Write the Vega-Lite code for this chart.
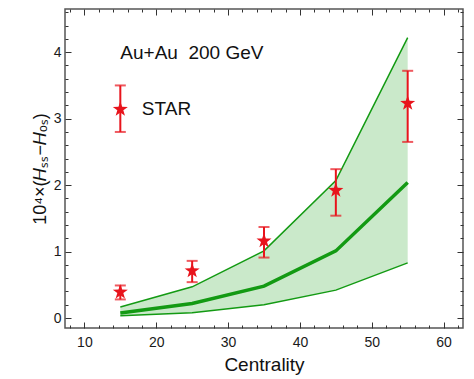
{
  "$schema": "https://vega.github.io/schema/vega-lite/v6.json",
  "width": 398,
  "height": 319,
  "autosize": {"type": "none"},
  "padding": {"left": 65, "top": 9, "right": 11, "bottom": 51},
  "background": "white",
  "config": {
    "view": {"stroke": "#555555", "strokeWidth": 1.5},
    "font": "Liberation Sans",
    "axis": {
      "domain": false,
      "grid": false,
      "labelFont": "Liberation Sans",
      "labelFontSize": 14,
      "labelColor": "#1a1a1a",
      "labelOverlap": false,
      "labelFlush": false,
      "ticks": true,
      "tickColor": "#333333",
      "tickWidth": 1,
      "titleFont": "Liberation Sans",
      "titleFontWeight": "normal",
      "titleColor": "#111111"
    }
  },
  "datasets": {
    "model": [
      {"centrality": 15, "lo": 0.035, "mid": 0.075, "hi": 0.165},
      {"centrality": 25, "lo": 0.08, "mid": 0.22, "hi": 0.47},
      {"centrality": 35, "lo": 0.2, "mid": 0.48, "hi": 1.01},
      {"centrality": 45, "lo": 0.42, "mid": 1.01, "hi": 2.07},
      {"centrality": 55, "lo": 0.83, "mid": 2.04, "hi": 4.22}
    ],
    "star": [
      {"centrality": 15, "value": 0.39, "low": 0.28, "high": 0.49},
      {"centrality": 25, "value": 0.71, "low": 0.54, "high": 0.86},
      {"centrality": 35, "value": 1.16, "low": 0.91, "high": 1.37},
      {"centrality": 45, "value": 1.92, "low": 1.54, "high": 2.24},
      {"centrality": 55, "value": 3.23, "low": 2.65, "high": 3.72},
      {"centrality": 15, "value": 3.14, "low": 2.8, "high": 3.5}
    ],
    "labels": [
      {"centrality": 15, "value": 3.9, "text": "Au+Au\u00a0\u00a0200 GeV"},
      {"centrality": 18, "value": 3.05, "text": "STAR"}
    ]
  },
  "layer": [
    {
      "data": {"name": "model"},
      "mark": {"type": "area", "color": "#0c9a0c", "opacity": 0.22},
      "encoding": {
        "x": {
          "field": "centrality", "type": "quantitative",
          "scale": {"domain": [7.3, 62.7], "nice": false, "zero": false},
          "axis": {
            "orient": "bottom",
            "title": "Centrality",
            "titleFontSize": 19,
            "titlePadding": 6,
            "values": [10, 20, 30, 40, 50, 60],
            "tickSize": 6,
            "offset": -6,
            "labelPadding": 7
          }
        },
        "y": {
          "field": "lo", "type": "quantitative",
          "scale": {"domain": [-0.15, 4.65], "nice": false, "zero": false},
          "axis": {
            "orient": "left",
            "title": "10⁴×(𝐻ₛₛ−𝐻ₒₛ)",
            "titleFontSize": 18,
            "titlePadding": 4,
            "values": [0, 1, 2, 3, 4],
            "format": "d",
            "tickSize": 6,
            "offset": -6,
            "labelPadding": 4
          }
        },
        "y2": {"field": "hi"}
      }
    },
    {
      "data": {"name": "model"},
      "mark": {"type": "line", "color": "#139a13", "strokeWidth": 1.5},
      "encoding": {
        "x": {
          "field": "centrality", "type": "quantitative",
          "scale": {"domain": [7.3, 62.7], "nice": false, "zero": false},
          "axis": {
            "orient": "top", "title": null, "labels": false,
            "values": [10, 20, 30, 40, 50, 60],
            "tickSize": 6, "offset": -6
          }
        },
        "y": {
          "field": "hi", "type": "quantitative",
          "scale": {"domain": [-0.15, 4.65], "nice": false, "zero": false},
          "axis": {
            "orient": "right", "title": null, "labels": false,
            "values": [0, 1, 2, 3, 4],
            "tickSize": 6, "offset": -6
          }
        }
      }
    },
    {
      "data": {"name": "model"},
      "mark": {"type": "line", "color": "#139a13", "strokeWidth": 1.5},
      "encoding": {
        "x": {
          "field": "centrality", "type": "quantitative",
          "axis": {
            "orient": "bottom", "title": null, "labels": false,
            "values": [8, 12, 14, 16, 18, 22, 24, 26, 28, 32, 34, 36, 38, 42, 44, 46, 48, 52, 54, 56, 58, 62],
            "tickSize": 3, "offset": -3
          }
        },
        "y": {
          "field": "lo", "type": "quantitative",
          "axis": {
            "orient": "left", "title": null, "labels": false,
            "values": [0.2, 0.4, 0.6, 0.8, 1.2, 1.4, 1.6, 1.8, 2.2, 2.4, 2.6, 2.8, 3.2, 3.4, 3.6, 3.8, 4.2, 4.4, 4.6],
            "tickSize": 3, "offset": -3
          }
        }
      }
    },
    {
      "data": {"name": "model"},
      "mark": {"type": "line", "color": "#139a13", "strokeWidth": 3.5},
      "encoding": {
        "x": {
          "field": "centrality", "type": "quantitative",
          "axis": {
            "orient": "top", "title": null, "labels": false,
            "values": [8, 12, 14, 16, 18, 22, 24, 26, 28, 32, 34, 36, 38, 42, 44, 46, 48, 52, 54, 56, 58, 62],
            "tickSize": 3, "offset": -3
          }
        },
        "y": {
          "field": "mid", "type": "quantitative",
          "axis": {
            "orient": "right", "title": null, "labels": false,
            "values": [0.2, 0.4, 0.6, 0.8, 1.2, 1.4, 1.6, 1.8, 2.2, 2.4, 2.6, 2.8, 3.2, 3.4, 3.6, 3.8, 4.2, 4.4, 4.6],
            "tickSize": 3, "offset": -3
          }
        }
      }
    },
    {
      "data": {"name": "star"},
      "mark": {"type": "rule", "color": "#e8141c", "strokeWidth": 2},
      "encoding": {
        "x": {"field": "centrality", "type": "quantitative", "axis": null},
        "y": {"field": "low", "type": "quantitative", "axis": null},
        "y2": {"field": "high"}
      }
    },
    {
      "data": {"name": "star"},
      "mark": {"type": "tick", "color": "#e8141c", "orient": "horizontal", "size": 11, "thickness": 2},
      "encoding": {
        "x": {"field": "centrality", "type": "quantitative", "axis": null},
        "y": {"field": "low", "type": "quantitative", "axis": null}
      }
    },
    {
      "data": {"name": "star"},
      "mark": {"type": "tick", "color": "#e8141c", "orient": "horizontal", "size": 11, "thickness": 2},
      "encoding": {
        "x": {"field": "centrality", "type": "quantitative", "axis": null},
        "y": {"field": "high", "type": "quantitative", "axis": null}
      }
    },
    {
      "data": {"name": "star"},
      "mark": {
        "type": "point", "filled": true, "color": "#e8141c", "opacity": 1, "size": 250,
        "shape": "M0,-1L0.235,-0.324L0.951,-0.309L0.38,0.124L0.588,0.809L0,0.4L-0.588,0.809L-0.38,0.124L-0.951,-0.309L-0.235,-0.324Z"
      },
      "encoding": {
        "x": {"field": "centrality", "type": "quantitative", "axis": null},
        "y": {"field": "value", "type": "quantitative", "axis": null}
      }
    },
    {
      "data": {"name": "labels"},
      "mark": {"type": "text", "align": "left", "baseline": "alphabetic", "fontSize": 19, "font": "Liberation Sans", "color": "#111111"},
      "encoding": {
        "x": {"field": "centrality", "type": "quantitative", "axis": null},
        "y": {"field": "value", "type": "quantitative", "axis": null},
        "text": {"field": "text"}
      }
    }
  ],
  "resolve": {"axis": {"x": "independent", "y": "independent"}}
}
